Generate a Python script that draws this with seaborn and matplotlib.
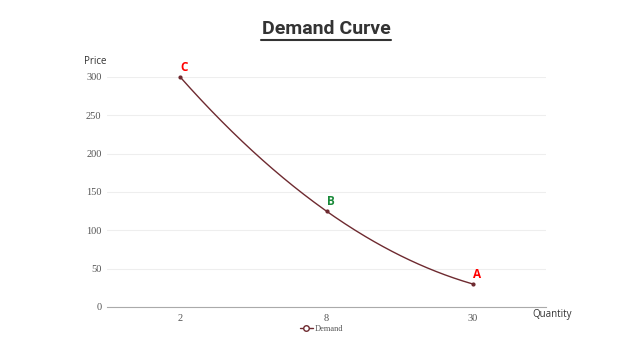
import numpy as np
import pandas as pd
import matplotlib
matplotlib.use("Agg")
import matplotlib.pyplot as plt
import seaborn as sns
from matplotlib.lines import Line2D

quantity = ["2", "8", "30"]
price = [300, 125, 30]
point_labels = ["C", "B", "A"]
label_colors = ["#ff0000", "#1a8a3a", "#ff0000"]
y_ticks = [0, 50, 100, 150, 200, 250, 300]

sns.set_theme(style="white")
plt.rcParams["font.family"] = ["DejaVu Sans"]

fig = plt.figure(figsize=(6.4, 3.6), dpi=100)
ax = fig.add_axes([107/640, 1-307/360, (546-107)/640, (307-77)/360])

xi = np.arange(len(quantity))
# smooth curve through the points
coef = np.polyfit(xi, price, 2)
xs = np.linspace(0, len(quantity) - 1, 200)
ys = np.polyval(coef, xs)
line_color = "#6e2a30"
sns.lineplot(x=xs, y=ys, ax=ax, color=line_color, lw=1.0, clip_on=False)
ax.scatter(xi, price, s=4, color=line_color, zorder=3, clip_on=False)

for x, y, t, c in zip(xi, price, point_labels, label_colors):
    ax.text(x + 0.03, y + 4, t, color=c, fontsize=8.5, fontweight="bold",
            family="Open Sans", ha="center", va="bottom")

ax.set_xlim(-0.5, len(quantity) - 0.5)
ax.set_ylim(0, 300)
ax.set_xticks(xi)
ax.set_xticklabels(quantity, family="Liberation Serif", fontsize=7.5, color="#555555")
ax.set_xticks([-0.5, 0.5, 1.5, 2.5], minor=True)
ax.tick_params(axis="x", which="major", length=0, pad=5)
ax.tick_params(axis="x", which="minor", length=3, color="#aaaaaa", width=0.8, direction="out")
ax.set_yticks(y_ticks)
ax.set_yticklabels([str(v) for v in y_ticks], family="Liberation Serif", fontsize=7.5, color="#555555")
ax.tick_params(axis="y", length=0, pad=4)
ax.grid(axis="y", color="#eeeeee", lw=0.8)
ax.set_axisbelow(True)
for s in ["top", "right", "left"]:
    ax.spines[s].set_visible(False)
ax.spines["bottom"].set_color("#aaaaaa")
ax.spines["bottom"].set_linewidth(0.8)
ax.set_xlabel("")
ax.set_ylabel("")

fig.text(84/640, 1-61/360, "Price", family="Open Sans", fontsize=7, color="#333333", va="center")
fig.text(532/640, 1-315/360, "Quantity", family="Open Sans", fontsize=7, color="#333333", va="center")

fig.text(326/640, 1-29/360, "Demand Curve", family="Roboto", fontsize=14,
         fontweight="bold", color="#333333", ha="center", va="center")
fig.add_artist(Line2D([261/640, 391/640], [1-39.5/360, 1-39.5/360], color="#333333", lw=1.5))

h = Line2D([0], [0], color=line_color, lw=1, marker="o", markersize=4,
           markerfacecolor="white", markeredgecolor=line_color)
fig.legend([h], ["Demand"], loc="center", bbox_to_anchor=(322/640, 1-329/360),
           frameon=False, prop={"family": "Liberation Serif", "size": 6},
           handlelength=1.5, handletextpad=0.3, labelcolor="#555555")

fig.savefig("out.png", dpi=100, facecolor="white")
